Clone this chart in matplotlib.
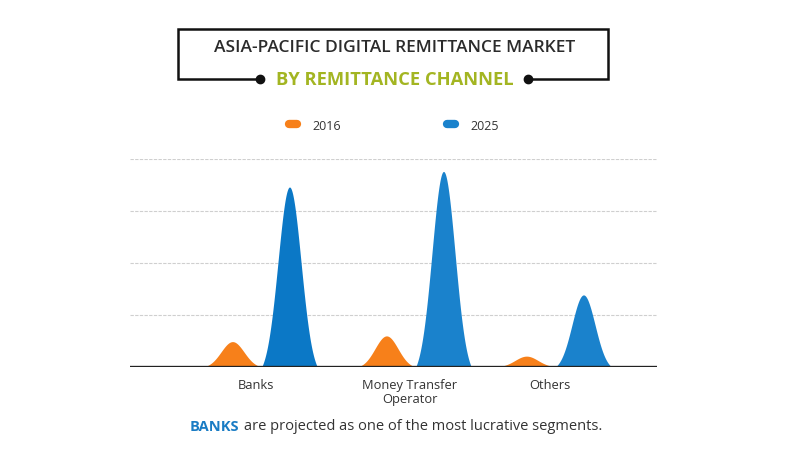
import numpy as np
import matplotlib
matplotlib.use("Agg")
import matplotlib.pyplot as plt
from matplotlib.lines import Line2D

plt.rcParams["font.family"] = ["Open Sans", "DejaVu Sans"]

# data (one grid step = 10)
categories = ["Banks", "Money Transfer\nOperator", "Others"]
years = ["2016", "2025"]
values_2016 = [4.8, 5.9, 2.0]
values_2025 = [34.6, 37.6, 13.8]

ORANGE = "#F7801A"
BLUE = "#1A82CC"
BLUE_BANKS = "#0B78C6"
DARK = "#333333"

W, H = 790, 460
fig = plt.figure(figsize=(W / 100, H / 100), dpi=100)

# plot area in pixel coords of the reference
x0, x1, ybase, ytop = 130, 657, 367.5, 160
ax = fig.add_axes([x0 / W, 1 - ybase / H, (x1 - x0) / W, (ybase - ytop) / H])
ax.set_xlim(0, x1 - x0)
ax.set_ylim(0, 40)

centers = [131, 285, 425]   # category centres along the axis (layout)
offset = 28.5
sigma, k = 11.5, 2.4


def peak(ax, c, h, color):
    t = np.linspace(-k * sigma, k * sigma, 200)
    g0 = np.exp(-0.5 * k ** 2)
    y = h * (np.exp(-0.5 * (t / sigma) ** 2) - g0) / (1 - g0)
    ax.fill_between(c + t, 0, y, color=color, lw=0, zorder=3)


for i, c in enumerate(centers):
    peak(ax, c - offset, values_2016[i], ORANGE)
    peak(ax, c + offset, values_2025[i], BLUE_BANKS if i == 0 else BLUE)

for gy in [10, 20, 30, 40]:
    ax.axhline(gy, color="#cfcfcf", lw=0.8, ls=(0, (3, 1.2)), zorder=1)
ax.axhline(0, color="#222222", lw=2.4, zorder=4)

for s in ax.spines.values():
    s.set_visible(False)
ax.set_yticks([])
ax.set_xticks([c - 5 for c in centers])
ax.set_xticklabels(categories, fontsize=9.3, color=DARK, linespacing=1.15)
ax.tick_params(axis="x", length=0, pad=8)

# title box
box = fig.add_axes([0, 0, 1, 1])
box.set_xlim(0, W)
box.set_ylim(H, 0)
box.axis("off")
box.plot([262, 178, 178, 608, 608, 528], [80, 80, 30, 30, 80, 80],
         color="#111111", lw=1.8, solid_joinstyle="miter")
box.plot([260, 528], [80, 80], "o", color="#111111", ms=6)
box.text(395, 48, "ASIA-PACIFIC DIGITAL REMITTANCE MARKET", ha="center",
         va="center", fontsize=12.5, fontweight="semibold", color="#2b2b2b")
box.text(395, 80, "BY REMITTANCE CHANNEL", ha="center", va="center",
         fontsize=13.2, fontweight="bold", color="#A3B522")

# legend
handles = [Line2D([0], [0], color=ORANGE, lw=6, solid_capstyle="round"),
           Line2D([0], [0], color=BLUE, lw=6, solid_capstyle="round")]
fig.legend(handles, years, loc="center", bbox_to_anchor=(394 / W, 1 - 126 / H),
           ncol=2, frameon=False, handlelength=0.65, handletextpad=1.2,
           columnspacing=8.5, fontsize=9, labelcolor=DARK)

# footer
t1 = box.text(190, 427, "BANKS", ha="left", va="center", fontsize=10.5,
              fontweight="bold", color="#1A7CC4")
fig.canvas.draw()
bb = t1.get_window_extent()
box.text(bb.x1 + 4, 427, "are projected as one of the most lucrative segments.",
         ha="left", va="center", fontsize=10.5, color=DARK)

fig.savefig("out.png", dpi=100)
